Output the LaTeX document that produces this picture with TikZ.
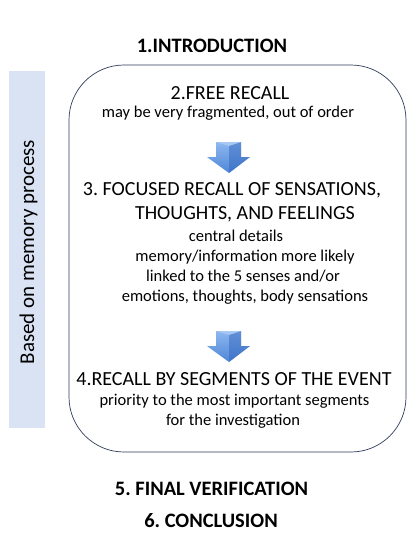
\documentclass[tikz,border=0pt]{standalone}
\usepackage{fontspec}
\setmainfont{Carlito}
\frenchspacing
\definecolor{sidefill}{HTML}{DAE3F3}
\definecolor{boxline}{HTML}{2F3B5C}
\definecolor{arrlight}{HTML}{8DB8F0}
\definecolor{arrmid}{HTML}{4F86D8}
\definecolor{arrdark}{HTML}{2C5FB8}
\begin{document}
\begin{tikzpicture}[x=1pt,y=-1pt,
  head/.style={font=\fontsize{20.5}{24}\selectfont\bfseries\frenchspacing, inner sep=0pt, anchor=base},
  title/.style={font=\fontsize{20}{24}\selectfont\frenchspacing, inner sep=0pt, anchor=base},
  sub/.style={font=\fontsize{16.5}{20}\selectfont, inner sep=0pt, anchor=base}]
\useasboundingbox (0,0) rectangle (414,550);
\fill[white] (0,0) rectangle (414,550);
% side bar
\fill[sidefill] (9,71) rectangle (45,428);
\node[rotate=90, font=\fontsize{21}{24}\selectfont, inner sep=0pt] (side) at (28.5,252) {Based on memory process};
% main rounded box
\draw[boxline, line width=0.7pt, rounded corners=55pt] (69,65) rectangle (406,452);
% texts
\node[head] (t1) at (212,52) {1.INTRODUCTION};
\node[title] (t2) at (230,99) {2.FREE RECALL};
\node[sub] (t2s) at (228,117) {may be very fragmented, out of order};
\node[title] (t3a) at (232,195) {3. FOCUSED RECALL OF SENSATIONS,};
\node[title] (t3b) at (245,219) {THOUGHTS, AND FEELINGS};
\node[sub] (t3c) at (236,241) {central details};
\node[sub] (t3d) at (245,261) {memory/information more likely};
\node[sub] (t3e) at (243,281) {linked to the 5 senses and/or};
\node[sub] (t3f) at (245,301) {emotions, thoughts, body sensations};
\node[title] (t4) at (234,385) {4.RECALL BY SEGMENTS OF THE EVENT};
\node[sub] (t4a) at (234.5,405) {priority to the most important segments};
\node[sub] (t4b) at (233,425) {for the investigation};
\node[head] (t5) at (211.5,495) {5. FINAL VERIFICATION};
\node[head] (t6) at (211,527) {6. CONCLUSION};
% arrows
\foreach \y in {142,331}{
  \shade[top color=arrlight, bottom color=arrmid] (216,\y) -- (241,\y) -- (241,\y+15) -- (250,\y+15) -- (229,\y+31) -- (207,\y+15) -- (216,\y+15) -- cycle;
  \fill[arrdark, opacity=0.45] (229,\y+4) -- (241,\y) -- (241,\y+15) -- (250,\y+15) -- (229,\y+31) -- cycle;
  \fill[white, opacity=0.25] (216,\y) -- (241,\y) -- (229,\y+4) -- cycle;
}
\end{tikzpicture}
\end{document}
